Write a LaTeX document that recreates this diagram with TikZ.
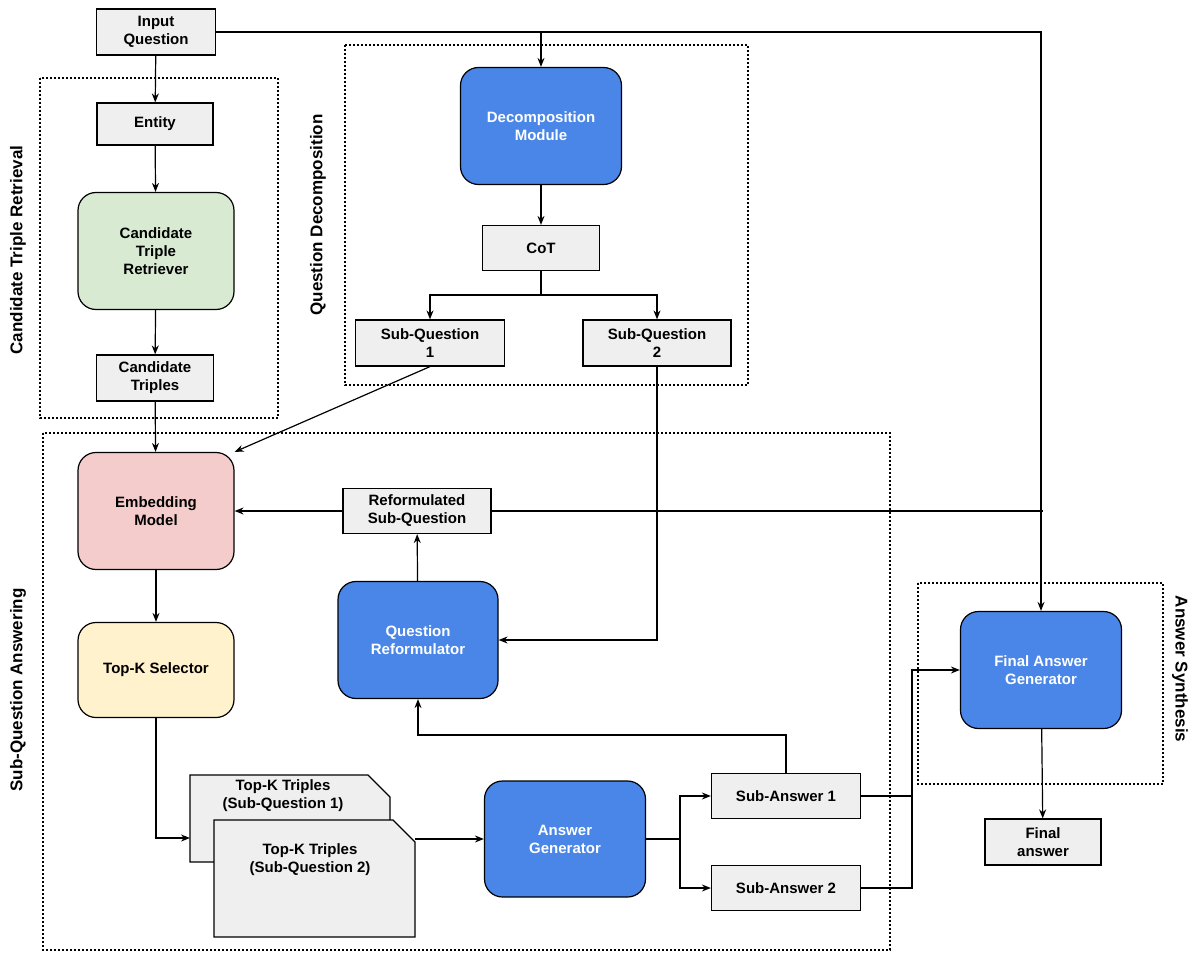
\documentclass[tikz,border=0pt]{standalone}
\usepackage{fontspec}
\setmainfont{Liberation Sans}
\usetikzlibrary{arrows.meta}
\definecolor{bl}{HTML}{4A86E8}
\definecolor{gr}{HTML}{D9EAD3}
\definecolor{pk}{HTML}{F4CCCC}
\definecolor{yl}{HTML}{FFF2CC}
\definecolor{gy}{HTML}{EFEFEF}
\begin{document}
\begin{tikzpicture}[x=1pt,y=-1pt,
  every node/.style={font=\fontsize{15}{18}\selectfont\bfseries, align=center, inner sep=0pt},
  box/.style={draw, line width=1.2pt, fill=gy, minimum width=#1, minimum height=46pt},
  rnd/.style={draw, line width=1.2pt, rounded corners=18pt, minimum width=160pt, minimum height=117pt},
  blu/.style={rnd, fill=bl, text=white},
  grp/.style={draw, line width=2pt, dotted},
  lab/.style={font=\fontsize{17}{20}\selectfont\bfseries},
  arr/.style={draw, line width=1.2pt, -{Stealth[length=9pt,width=7pt]}},
  ln/.style={draw, line width=1.2pt}]
\useasboundingbox (0,0) rectangle (1200,963);
\fill[white] (0,0) rectangle (1200,963);
% groups
\draw[grp] (40,78) rectangle (278,418);
\draw[grp] (345,45) rectangle (748,385);
\draw[grp] (43,433) rectangle (890,950);
\draw[grp] (918,583) rectangle (1163,784);
\node[lab, rotate=90] (l1) at (18,250) {Candidate Triple Retrieval};
\node[lab, rotate=90] (l2) at (318,215) {Question Decomposition};
\node[lab, rotate=90] (l3) at (18,690) {Sub-Question Answering};
\node[lab, rotate=-90] (l4) at (1180,669) {Answer Synthesis};
% nodes
\node[box=119pt] (iq) at (156,32) {Input\\Question};
\node[box=116pt, minimum height=42pt] (ent) at (155,124) {Entity};
\node[rnd, fill=gr, minimum width=156pt] (ctr) at (156,251) {Candidate\\Triple\\Retriever};
\node[box=117pt] (ct) at (155,378) {Candidate\\Triples};
\node[blu, minimum width=161pt] (dm) at (541,126) {Decomposition\\Module};
\node[box=117pt, minimum height=45pt] (cot) at (541,248) {CoT};
\node[box=149pt] (sq1) at (430,343) {Sub-Question\\1};
\node[box=148pt] (sq2) at (657,343) {Sub-Question\\2};
\node[rnd, fill=pk, minimum width=156pt] (em) at (156,511) {Embedding\\Model};
\node[box=148pt, minimum height=45pt] (rsq) at (417,511) {Reformulated\\Sub-Question};
\node[rnd, fill=yl, minimum width=156pt, minimum height=95pt] (tks) at (156,670) {Top-K Selector};
\node[blu] (qr) at (418,640) {Question\\Reformulator};
\node[blu, minimum width=161pt, minimum height=116pt] (ag) at (565,839) {Answer\\Generator};
\node[box=149pt, minimum height=45pt] (sa1) at (786,796) {Sub-Answer 1};
\node[box=149pt, minimum height=45pt] (sa2) at (786,888) {Sub-Answer 2};
\node[blu, minimum width=161pt] (fag) at (1041,670) {Final Answer\\Generator};
\node[box=116pt] (fa) at (1043,842) {Final\\answer};
% documents
\draw[line width=1.2pt, fill=gy] (190,775) -- (368,775) -- (390,797) -- (390,862) -- (190,862) -- cycle;
\node (d1) at (283,796) {Top-K Triples\\(Sub-Question 1)};
\draw[line width=1.2pt, fill=gy] (214,820) -- (393,820) -- (415,842) -- (415,937) -- (214,937) -- cycle;
\node (d2) at (310,860) {Top-K Triples\\(Sub-Question 2)};
\coordinate (d1l) at (190,838);
\coordinate (d2r) at (415,839);
% connectors
\path[arr] (iq) -- (ent);
\path[arr] (iq.east) -| (dm.north);
\path[arr] (iq.east) -| (fag.north);
\path[arr] (ent) -- (ctr);
\path[arr] (ctr) -- (ct);
\path[arr] (ct) -- (em);
\path[arr] (dm) -- (cot);
\path[ln] (cot.south) -- (541,295);
\path[arr] (541,295) -| (sq1.north);
\path[arr] (541,295) -| (sq2.north);
\path[arr] (sq1.south) -- (em.north east);
\path[arr] (sq2.south) |- (qr.east);
\path[arr] (qr) -- (rsq);
\path[arr] (rsq) -- (em);
\path[ln] (rsq.east) -- (1043,511);
\path[arr] (em) -- (tks);
\path[arr] (tks.south) |- (d1l);
\path[arr] (d2r) -- (ag.west);
\path[ln] (ag.east) -- (680,839);
\path[arr] (680,839) |- (sa1.west);
\path[arr] (680,839) |- (sa2.west);
\path[arr] (sa1.north) |- (418,735) -- (qr.south);
\path[ln] (sa1.east) -- (912,796);
\path[ln] (sa2.east) -| (912,796);
\path[arr] (912,796) |- (fag.west);
\path[arr] (fag) -- (fa);
\end{tikzpicture}
\end{document}
